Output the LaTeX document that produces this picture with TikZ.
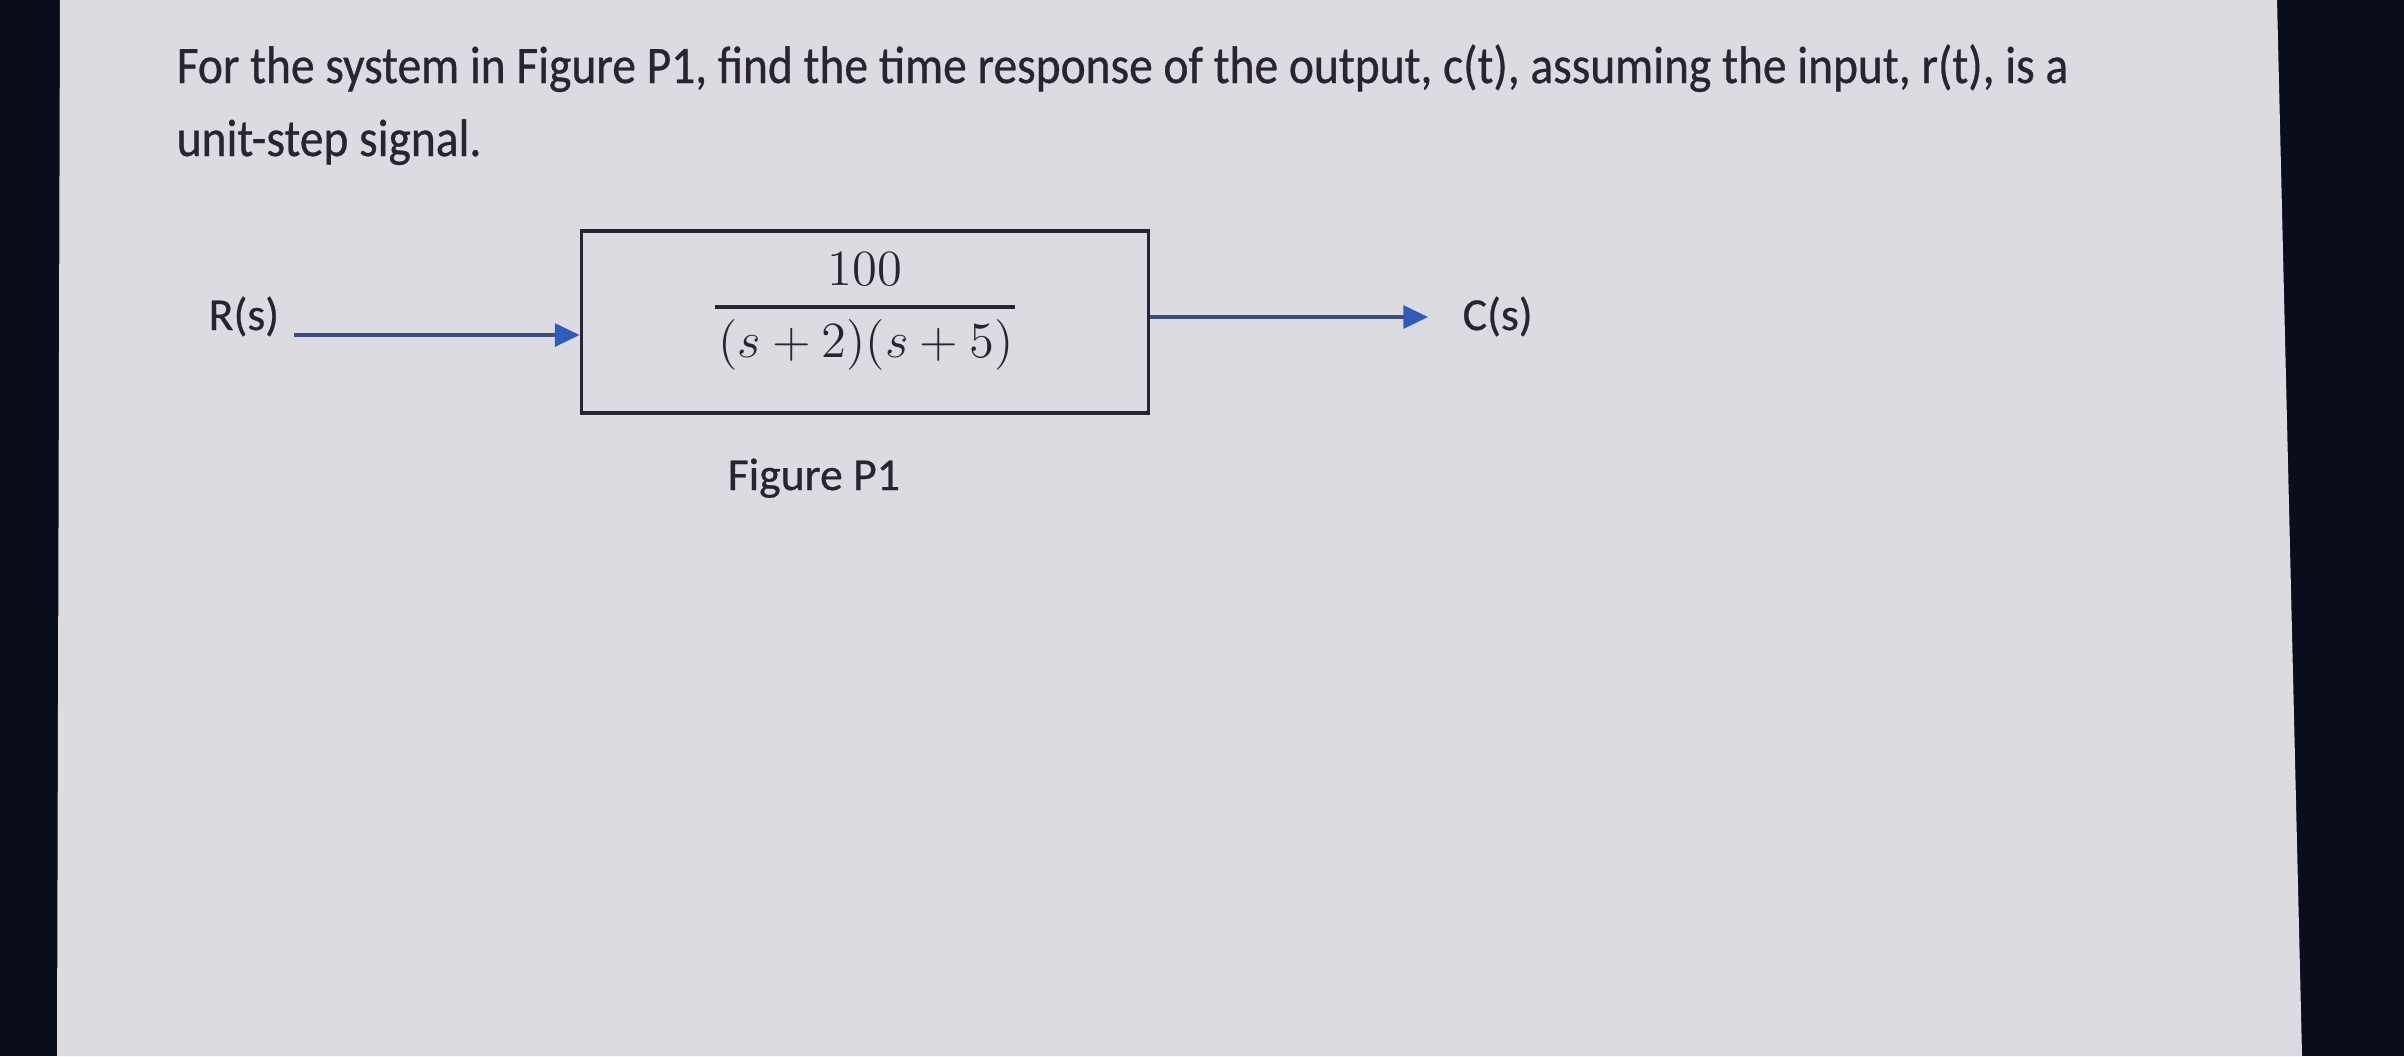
\documentclass[tikz,border=0pt]{standalone}
\usepackage{fontspec}
\setmainfont{Carlito}[FakeBold=0.6]
\newfontfamily\stemfont{Carlito}[FakeStretch=0.9, FakeBold=0.6]
\usetikzlibrary{arrows.meta}

\definecolor{screen}{HTML}{DCDBE1}
\definecolor{bezel}{HTML}{0A0E1A}
\definecolor{ink}{HTML}{2A2432}
\definecolor{wire}{HTML}{3A4E7E}
\definecolor{tipblue}{HTML}{2D5CBC}

\tikzset{
  txt/.style={text=ink, inner sep=0pt},
  sig/.style={draw=wire, line width=0.9pt,
    -{Triangle[length=7pt, width=6.5pt, color=tipblue]}},
  blockbox/.style={draw=ink, line width=1pt, minimum width=5.67cm,
    minimum height=1.82cm, inner sep=0pt}
}

\begin{document}
\begin{tikzpicture}[x=0.01cm, y=-0.01cm]
    % screen in the photo
    \fill[bezel] (0,0) rectangle (2404,1056);
    \fill[screen] (60,0) -- (2277,0) -- (2302,1056) -- (57,1056) -- cycle;
    \useasboundingbox (0,0) rectangle (2404,1056);

    % question
    \node[txt, anchor=base west, font=\stemfont\fontsize{15}{18}\selectfont] (qa) at (176,83)
      {For the system in Figure P1, find the time response of the output, c(t), assuming the input, r(t), is a};
    \node[txt, anchor=base west, font=\stemfont\fontsize{15}{18}\selectfont] (qb) at (176,156)
      {unit-step signal.};

    % block
    \node[blockbox] (plant) at (865,322) {};
    \node[txt, font=\fontsize{14}{16}\selectfont] (num) at (865,269) {$100$};
    \node[txt, font=\fontsize{14.5}{17}\selectfont] (den) at (866,345) {$(s+2)(s+5)$};
    \coordinate (barl) at (715,307);
    \coordinate (barr) at (1015,307);
    \draw[ink, line width=1.1pt] (barl) -- (barr);

    % signals
    \node[txt, font=\fontsize{13}{16}\selectfont, anchor=base west] (rs) at (208,330) {R(s)};
    \node[txt, font=\fontsize{13}{16}\selectfont, anchor=base west] (cs) at (1462,330) {C(s)};
    \coordinate (rin) at (294,335);
    \coordinate (cout) at (1428,317);
    \draw[sig] (rin) -- (rin -| plant.west);
    \draw[sig] (plant.east |- cout) -- (cout);

    \node[txt, font=\fontsize{13}{16}\selectfont, anchor=base west] (cap) at (727,490) {Figure P1};
\end{tikzpicture}
\end{document}
